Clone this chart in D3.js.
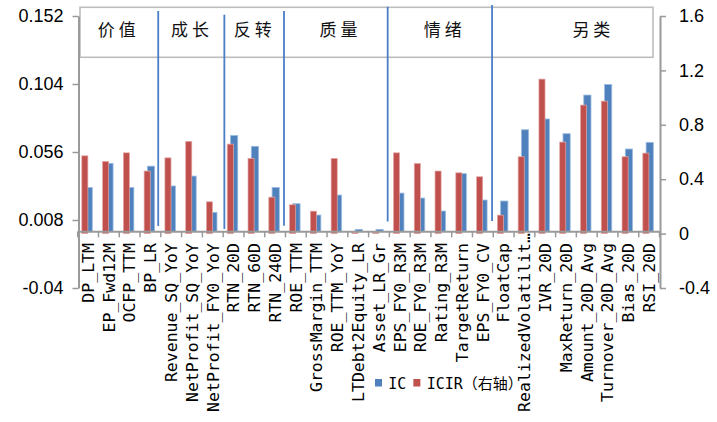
<!DOCTYPE html>
<html>
<head>
<meta charset="utf-8">
<script src="https://cdn.jsdelivr.net/npm/d3@7/dist/d3.min.js"></script>
<style>
  html, body { margin: 0; padding: 0; background: #fff; }
  svg { display: block; }
</style>
</head>
<body>
<svg id="chart" width="717" height="422"></svg>
<script>
// ---------------- data ----------------
const categories = [
  "DP_LTM", "EP_Fwd12M", "OCFP_TTM", "BP_LR",
  "Revenue_SQ_YoY", "NetProfit_SQ_YoY", "NetProfit_FY0_YoY",
  "RTN_20D", "RTN_60D", "RTN_240D",
  "ROE_TTM", "GrossMargin_TTM", "ROE_TTM_YoY", "LTDebt2Equity_LR", "Asset_LR_Gr",
  "EPS_FY0_R3M", "ROE_FY0_R3M", "Rating_R3M", "TargetReturn", "EPS_FY0_CV",
  "FloatCap", "RealizedVolatilit\u2026", "IVR_20D", "MaxReturn_20D",
  "Amount_20D_Avg", "Turnover_20D_Avg", "Bias_20D", "RSI_20D"
];
const icValues = [
  0.031, 0.048, 0.031, 0.046,
  0.032, 0.039, 0.0134,
  0.0677, 0.060, 0.031,
  0.0195, 0.0115, 0.0256, 0.0014, 0.0014,
  0.027, 0.0235, 0.0143, 0.0407, 0.0221,
  0.0214, 0.0717, 0.0793, 0.0689,
  0.0962, 0.1037, 0.0581, 0.0628
];
const icirValues = [
  0.572, 0.531, 0.594, 0.46,
  0.557, 0.678, 0.234,
  0.658, 0.553, 0.268,
  0.212, 0.165, 0.553, 0.01, 0.01,
  0.594, 0.516, 0.46, 0.447, 0.418,
  0.136, 0.565, 1.136, 0.673,
  0.945, 0.974, 0.565, 0.592
];
const groupNames = ["价值", "成长", "反转", "质量", "情绪", "另类"];
const groupSizes = [4, 3, 3, 5, 5, 8];
const leftTickValues = [-0.04, 0.008, 0.056, 0.104, 0.152];
const leftTickLabels = ["-0.04", "0.008", "0.056", "0.104", "0.152"];
const rightTickValues = [-0.4, 0, 0.4, 0.8, 1.2, 1.6];
const rightTickLabels = ["-0.4", "0", "0.4", "0.8", "1.2", "1.6"];
const seriesNames = ["IC", "ICIR（右轴）"];

// ---------------- layout / style ----------------
const W = 717, H = 422;
const plotLeft = 77.7, plotRight = 659.5, plotTop = 16, plotBottom = 288;
const blue = "#4F81BD", red = "#C0504D";
const axisColor = "#9a9a9a";
const tickFont = "'Liberation Sans', Arial, sans-serif";
const monoFont = "'DejaVu Sans Mono', 'Liberation Mono', monospace";
const cjkFont = "'Noto Sans CJK SC', 'Noto Sans', sans-serif";

const svg = d3.select("#chart");

const x = d3.scaleBand().domain(categories).range([plotLeft, plotRight]).padding(0);
const yL = d3.scaleLinear().domain([-0.04, 0.152]).range([plotBottom, plotTop]);
const yR = d3.scaleLinear().domain([-0.4, 1.6]).range([plotBottom, plotTop]);
const step = x.step();

// ---------------- header box ----------------
svg.append("rect")
  .attr("x", 80).attr("y", 7.3)
  .attr("width", 573).attr("height", 50)
  .attr("fill", "#fff")
  .attr("stroke", "#bdbdbd")
  .attr("stroke-width", 1.6);

// ---------------- bars ----------------
const data = categories.map((c, i) => ({ c, ic: icValues[i], icir: icirValues[i] }));
const center = d => x(d.c) + step / 2;

svg.append("g").selectAll("rect").data(data).join("rect")
  .attr("x", d => center(d) - 3)
  .attr("width", 7.2)
  .attr("y", d => Math.min(yL(d.ic), yL(0)))
  .attr("height", d => Math.abs(yL(0) - yL(d.ic)))
  .attr("fill", blue)
  .attr("stroke", "#9bbbe0")
  .attr("stroke-width", 0.8);

svg.append("g").selectAll("rect").data(data).join("rect")
  .attr("x", d => center(d) - 6.3)
  .attr("width", 6.1)
  .attr("y", d => Math.min(yR(d.icir), yR(0)))
  .attr("height", d => Math.abs(yR(0) - yR(d.icir)))
  .attr("fill", red)
  .attr("stroke", "#e3a9a7")
  .attr("stroke-width", 0.7);

// ---------------- axes ----------------
function styleAxis(g) {
  g.select(".domain").attr("stroke", axisColor).attr("stroke-width", 2);
  g.selectAll(".tick line").attr("stroke", axisColor).attr("stroke-width", 1.5);
  g.selectAll(".tick text").attr("fill", "#000")
    .style("font-family", tickFont).style("font-size", "18px");
}

const leftAxis = svg.append("g")
  .attr("transform", `translate(${78.5},0)`)
  .call(d3.axisLeft(yL).tickValues(leftTickValues)
    .tickFormat((d, i) => leftTickLabels[i]).tickSize(6).tickSizeOuter(0).tickPadding(9));
styleAxis(leftAxis);

const rightAxis = svg.append("g")
  .attr("transform", `translate(${660},0)`)
  .call(d3.axisRight(yR).tickValues(rightTickValues)
    .tickFormat((d, i) => rightTickLabels[i]).tickSize(6).tickSizeOuter(0).tickPadding(13));
styleAxis(rightAxis);

// x axis (at IC zero)
const y0 = yL(0);
const bottomAxis = svg.append("g")
  .attr("transform", `translate(0,${y0})`)
  .call(d3.axisBottom(x).tickSize(0).tickSizeOuter(0).tickPadding(0));
bottomAxis.select(".domain").attr("stroke", axisColor).attr("stroke-width", 2);
const maxLen = 412 - (y0 + 11.7);
bottomAxis.selectAll(".tick text")
  .attr("fill", "#000")
  .style("font-family", monoFont)
  .style("font-size", "16.5px")
  .attr("text-anchor", "end")
  .attr("transform", "rotate(-90)")
  .attr("y", 0)
  .attr("dy", "0.35em")
  .attr("x", function () {
    const len = this.getComputedTextLength();
    return -(11.7 + Math.max(0, len - maxLen) * -1 * -1 > 0 ? 11.7 - Math.max(0, len - maxLen) : 11.7);
  });
// boundary tick marks
svg.append("g").selectAll("line").data(d3.range(categories.length + 1)).join("line")
  .attr("x1", i => plotLeft + i * step).attr("x2", i => plotLeft + i * step)
  .attr("y1", y0).attr("y2", y0 + 6)
  .attr("stroke", axisColor).attr("stroke-width", 1.5);

// ---------------- group separators and labels ----------------
let acc = 0;
const groups = groupNames.map((name, gi) => {
  const start = acc; acc += groupSizes[gi];
  return { name, start, end: acc };
});
const sepDx = [-2.6, 1.2, -1.5, -1.7, -1.2];
const sepTop = [11, 14.7, 11, 6.7, 5];
const sepBottom = [226, 229, 225.7, 221.5, 221];
const labelDx = [-2.5, -2, -1.5, 1, 1.5, 15];

groups.forEach((g, gi) => {
  const xs = plotLeft + g.start * step, xe = plotLeft + g.end * step;
  svg.append("text")
    .attr("x", (xs + xe) / 2 + labelDx[gi] + 2)
    .attr("y", 36)
    .attr("text-anchor", "middle")
    .style("font-family", cjkFont)
    .style("font-size", "17px")
    .style("letter-spacing", "4px")
    .attr("fill", "#111")
    .text(g.name);
  if (gi < groups.length - 1) {
    svg.append("line")
      .attr("x1", xe + sepDx[gi]).attr("x2", xe + sepDx[gi])
      .attr("y1", sepTop[gi]).attr("y2", sepBottom[gi])
      .attr("stroke", "#4a7ec6").attr("stroke-width", 1.8);
  }
});

// ---------------- legend ----------------
const legend = svg.append("g");
let lx = 375;
const colors = [blue, red];
seriesNames.forEach((name, i) => {
  legend.append("rect").attr("x", lx).attr("y", 379).attr("width", 7).attr("height", 7.5)
    .attr("fill", colors[i]);
  const t = legend.append("text").attr("x", lx + 13.3).attr("y", 388.5)
    .style("font-family", monoFont + ", " + cjkFont)
    .style("font-size", "15px")
    .attr("fill", "#000")
    .text(name);
  lx = lx + 13.3 + t.node().getComputedTextLength() + 7;
});
</script>
</body>
</html>
